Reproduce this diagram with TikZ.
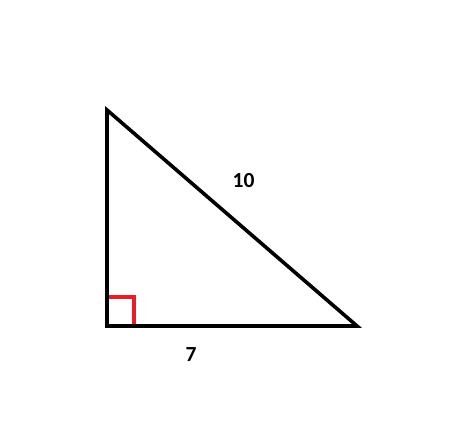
\documentclass[tikz,border=0pt]{standalone}
\usepackage{fontspec}
\setmainfont{Carlito}
\definecolor{paintred}{HTML}{ED1C24}
\begin{document}
\begin{tikzpicture}[x=1pt,y=-1pt,
  side/.style={draw=black,line width=3.6pt},
  rightmark/.style={draw=paintred,line width=3.2pt},
  lbl/.style={font=\fontsize{21.5}{24}\selectfont\bfseries,inner sep=0pt}]
\useasboundingbox (0,0) rectangle (450,441);
\coordinate (A) at (107,110);
\coordinate (B) at (107,326);
\coordinate (C) at (357,326);
\coordinate (M1) at (105,297);
\coordinate (M2) at (134,297);
\coordinate (M3) at (134,326);
\draw[rightmark] (M1) -- (M2) -- (M3);
\draw[side] (A) -- (B) -- (C) -- cycle;
\node[lbl] (h) at (243.5,180.5) {10};
\node[lbl] (b) at (191,355) {7};
\end{tikzpicture}
\end{document}
